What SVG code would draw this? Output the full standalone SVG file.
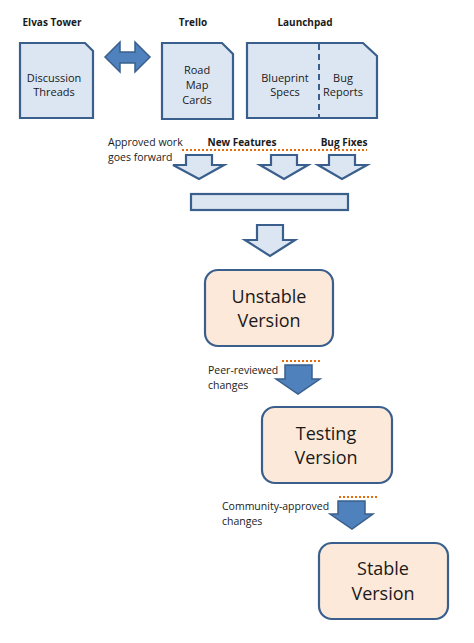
<svg xmlns="http://www.w3.org/2000/svg" width="474" height="643" viewBox="0 0 474 643">
<style>
.doc{fill:#dce6f2;stroke:#3a5f8c;stroke-width:2.2;stroke-linejoin:miter}
.ver{fill:#fde9d9;stroke:#3a5f8c;stroke-width:2.2}
.hollow{fill:#dce6f2;stroke:#3a5f8c;stroke-width:2.2;stroke-linejoin:miter}
.solid{fill:#4f81bd;stroke:#3a5f8c;stroke-width:1.5}
.dot{stroke:#e46c0a;stroke-width:2;stroke-dasharray:2 2;fill:none}
.t{font-family:"Open Sans","Liberation Sans",sans-serif;fill:#1a1a1a}
.s{font-size:10.5px}
.b{font-weight:bold;font-size:10px}
.m{font-size:11px}
.l{font-size:18px}
</style>
<rect width="474" height="643" fill="#ffffff"/>

<g id="labels">
<text class="t b" x="52" y="26" text-anchor="middle">Elvas Tower</text>
<text class="t b" x="193" y="26" text-anchor="middle">Trello</text>
<text class="t b" x="305" y="26" text-anchor="middle">Launchpad</text>
</g>

<g id="discussion">
<path class="doc" d="M20,43 H85 L93,51 V118 H20 Z"/>
<text class="t m" x="54" y="82" text-anchor="middle">Discussion</text>
<text class="t m" x="54" y="96" text-anchor="middle">Threads</text>
</g>

<g id="trello">
<path class="doc" d="M162,43 H222 L233,54 V119 H162 Z"/>
<text class="t m" x="197" y="74" text-anchor="middle">Road</text>
<text class="t m" x="197" y="89" text-anchor="middle">Map</text>
<text class="t m" x="197" y="104" text-anchor="middle">Cards</text>
</g>

<g id="launchpad">
<path class="doc" d="M247,43 H363 L377,56 V118 H247 Z"/>
<line x1="319" y1="44" x2="319" y2="117" stroke="#3a5f8c" stroke-width="2" stroke-dasharray="6 4"/>
<text class="t m" x="285" y="82" text-anchor="middle">Blueprint</text>
<text class="t m" x="285" y="96" text-anchor="middle">Specs</text>
<text class="t m" x="343" y="82" text-anchor="middle">Bug</text>
<text class="t m" x="343" y="96" text-anchor="middle">Reports</text>
</g>

<g id="connectors">
<path class="solid" d="M105,57 L120,42 V52 H135 V42 L150,57 L135,72 V63 H120 V72 Z"/>

<line class="dot" x1="182" y1="150" x2="367" y2="150"/>
<path class="hollow" d="M186,155 H212 V165 H224 L199,179 L173,165 H186 Z"/>
<path class="hollow" d="M271,155 H297 V165 H308 L284,179 L260,165 H271 Z"/>
<path class="hollow" d="M329,155 H355 V165 H367 L342,179 L318,165 H329 Z"/>
<path class="hollow" d="M257,225 H283 V240 H295 L270,256 L245,240 H257 Z"/>

<line class="dot" x1="282" y1="361" x2="320" y2="361"/>
<path class="solid" d="M285,365 H312 V379 H320 L298,394 L276,379 H285 Z"/>

<line class="dot" x1="339" y1="497" x2="377" y2="497"/>
<path class="solid" d="M338,501 H365 V514 H373 L352,529 L330,514 H338 Z"/>
</g>

<g id="merge-bar">
<rect class="hollow" x="191" y="194" width="157" height="16"/>
</g>

<g id="annotations">
<text class="t s" x="108" y="146">Approved work</text>
<text class="t s" x="108" y="161">goes forward</text>
<text class="t b" x="242" y="146" text-anchor="middle">New Features</text>
<text class="t b" x="344" y="146" text-anchor="middle">Bug Fixes</text>
<text class="t s" x="208" y="374">Peer-reviewed</text>
<text class="t s" x="208" y="389">changes</text>
<text class="t s" x="222" y="510">Community-approved</text>
<text class="t s" x="222" y="525">changes</text>
</g>

<g id="unstable">
<rect class="ver" x="205" y="270" width="128" height="76" rx="13"/>
<text class="t l" x="269" y="303" text-anchor="middle">Unstable</text>
<text class="t l" x="269" y="327" text-anchor="middle">Version</text>
</g>

<g id="testing">
<rect class="ver" x="262" y="407" width="130" height="76" rx="13"/>
<text class="t l" x="326" y="440" text-anchor="middle">Testing</text>
<text class="t l" x="326" y="464" text-anchor="middle">Version</text>
</g>

<g id="stable">
<rect class="ver" x="319" y="543" width="129" height="76" rx="13"/>
<text class="t l" x="383" y="575" text-anchor="middle">Stable</text>
<text class="t l" x="383" y="600" text-anchor="middle">Version</text>
</g>
</svg>
